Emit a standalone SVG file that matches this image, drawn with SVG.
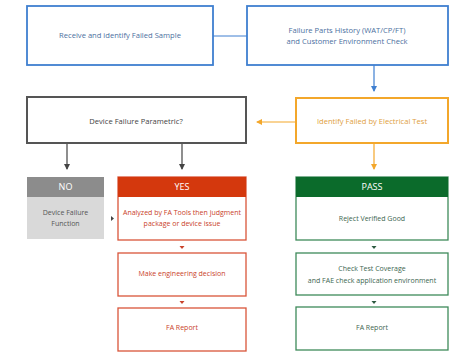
<svg xmlns="http://www.w3.org/2000/svg" width="474" height="357" viewBox="0 0 474 357">
<style>
text{font-family:"Open Sans","Noto Sans",sans-serif;font-size:7px;text-anchor:middle;dominant-baseline:middle}
.big{font-size:7.6px}
.blue{fill:#fff;stroke:#3f7fd0;stroke-width:1.8}
.bt{fill:#4b6fa0}
.gray{fill:#fff;stroke:#555;stroke-width:2}
.org{fill:#fff;stroke:#f3a72b;stroke-width:2}
.ot{fill:#e0a040}
.red{fill:#fff;stroke:#d9553a;stroke-width:1.3}
.rt{fill:#c9422a}
.grn{fill:#fff;stroke:#3e8a5a;stroke-width:1.3}
.gt{fill:#3d6650}
.hd{fill:#fff;font-size:9px}
</style>
<defs>
<marker id="ab" markerWidth="6" markerHeight="6" refX="5" refY="3" orient="auto" markerUnits="userSpaceOnUse"><path d="M0,0 L6,3 L0,6 Z" fill="#3f7fd0"/></marker>
<marker id="ao" markerWidth="6" markerHeight="6" refX="5" refY="3" orient="auto" markerUnits="userSpaceOnUse"><path d="M0,0 L6,3 L0,6 Z" fill="#f3a72b"/></marker>
<marker id="ag" markerWidth="6" markerHeight="6" refX="5" refY="3" orient="auto" markerUnits="userSpaceOnUse"><path d="M0,0 L6,3 L0,6 Z" fill="#444"/></marker>
</defs>
<g id="connectors">
<line x1="213" y1="36" x2="247" y2="36" stroke="#3f7fd0" stroke-width="1"/>
<line x1="374" y1="65" x2="374" y2="91" stroke="#3f7fd0" stroke-width="1.2" marker-end="url(#ab)"/>
<line x1="296" y1="122" x2="257" y2="122" stroke="#f3a72b" stroke-width="1.2" marker-end="url(#ao)"/>
<line x1="374" y1="143" x2="374" y2="169" stroke="#f3a72b" stroke-width="1.2" marker-end="url(#ao)"/>
<line x1="67" y1="143" x2="67" y2="169" stroke="#444" stroke-width="1.2" marker-end="url(#ag)"/>
<line x1="182" y1="143" x2="182" y2="169" stroke="#444" stroke-width="1.2" marker-end="url(#ag)"/>
<path d="M111,216 L114,218.5 L111,221 Z" fill="#444"/>
<path d="M179.5,246 L184.5,246 L182,249 Z" fill="#c9422a"/>
<path d="M179.5,301 L184.5,301 L182,304 Z" fill="#c9422a"/>
<path d="M371.5,246 L376.5,246 L374,249 Z" fill="#2c5a40"/>
<path d="M371.5,301 L376.5,301 L374,304 Z" fill="#2c5a40"/>
</g>
<g id="receive">
<rect class="blue" x="27" y="6" width="186" height="59"/>
<text class="bt big" x="120" y="36">Receive and identify Failed Sample</text>
</g>
<g id="history">
<rect class="blue" x="247" y="6" width="201" height="59"/>
<text class="bt big" x="347" y="31">Failure Parts History (WAT/CP/FT)</text>
<text class="bt big" x="347" y="42">and Customer Environment Check</text>
</g>
<g id="parametric">
<rect class="gray" x="27" y="97" width="219" height="46"/>
<text class="big" fill="#444" x="136" y="122">Device Failure Parametric?</text>
</g>
<g id="electrical">
<rect class="org" x="296" y="98" width="152" height="45"/>
<text class="ot big" x="372" y="122">Identify Failed by Electrical Test</text>
</g>
<g id="no">
<rect x="27" y="177" width="77" height="62" fill="#d9d9d9"/>
<rect x="27" y="177" width="77" height="20" fill="#8c8c8c"/>
<text class="hd" x="65.5" y="187.5">NO</text>
<text fill="#555" x="65.5" y="213">Device Failure</text>
<text fill="#555" x="65.5" y="224">Function</text>
</g>
<g id="yes">
<rect class="red" x="118" y="177" width="128" height="63"/>
<rect x="118" y="177" width="128" height="20" fill="#d4380d"/>
<text class="hd" x="182" y="187.5">YES</text>
<text class="rt" x="182" y="213">Analyzed by FA Tools then judgment</text>
<text class="rt" x="182" y="224">package or device issue</text>
</g>
<g id="decision">
<rect class="red" x="118" y="253" width="128" height="43"/>
<text class="rt" x="182" y="274">Make engineering decision</text>
</g>
<g id="fa-red">
<rect class="red" x="118" y="308" width="128" height="43"/>
<text class="rt" x="182" y="328">FA Report</text>
</g>
<g id="pass">
<rect class="grn" x="296" y="177" width="152" height="63"/>
<rect x="296" y="177" width="152" height="20" fill="#0b6b2b"/>
<text class="hd" x="372" y="187.5">PASS</text>
<text class="gt" x="372" y="219">Reject Verified Good</text>
</g>
<g id="coverage">
<rect class="grn" x="296" y="253" width="152" height="42"/>
<text class="gt" x="372" y="269">Check Test Coverage</text>
<text class="gt" x="372" y="281">and FAE check application environment</text>
</g>
<g id="fa-green">
<rect class="grn" x="296" y="307" width="152" height="43"/>
<text class="gt" x="372" y="328">FA Report</text>
</g>
</svg>
